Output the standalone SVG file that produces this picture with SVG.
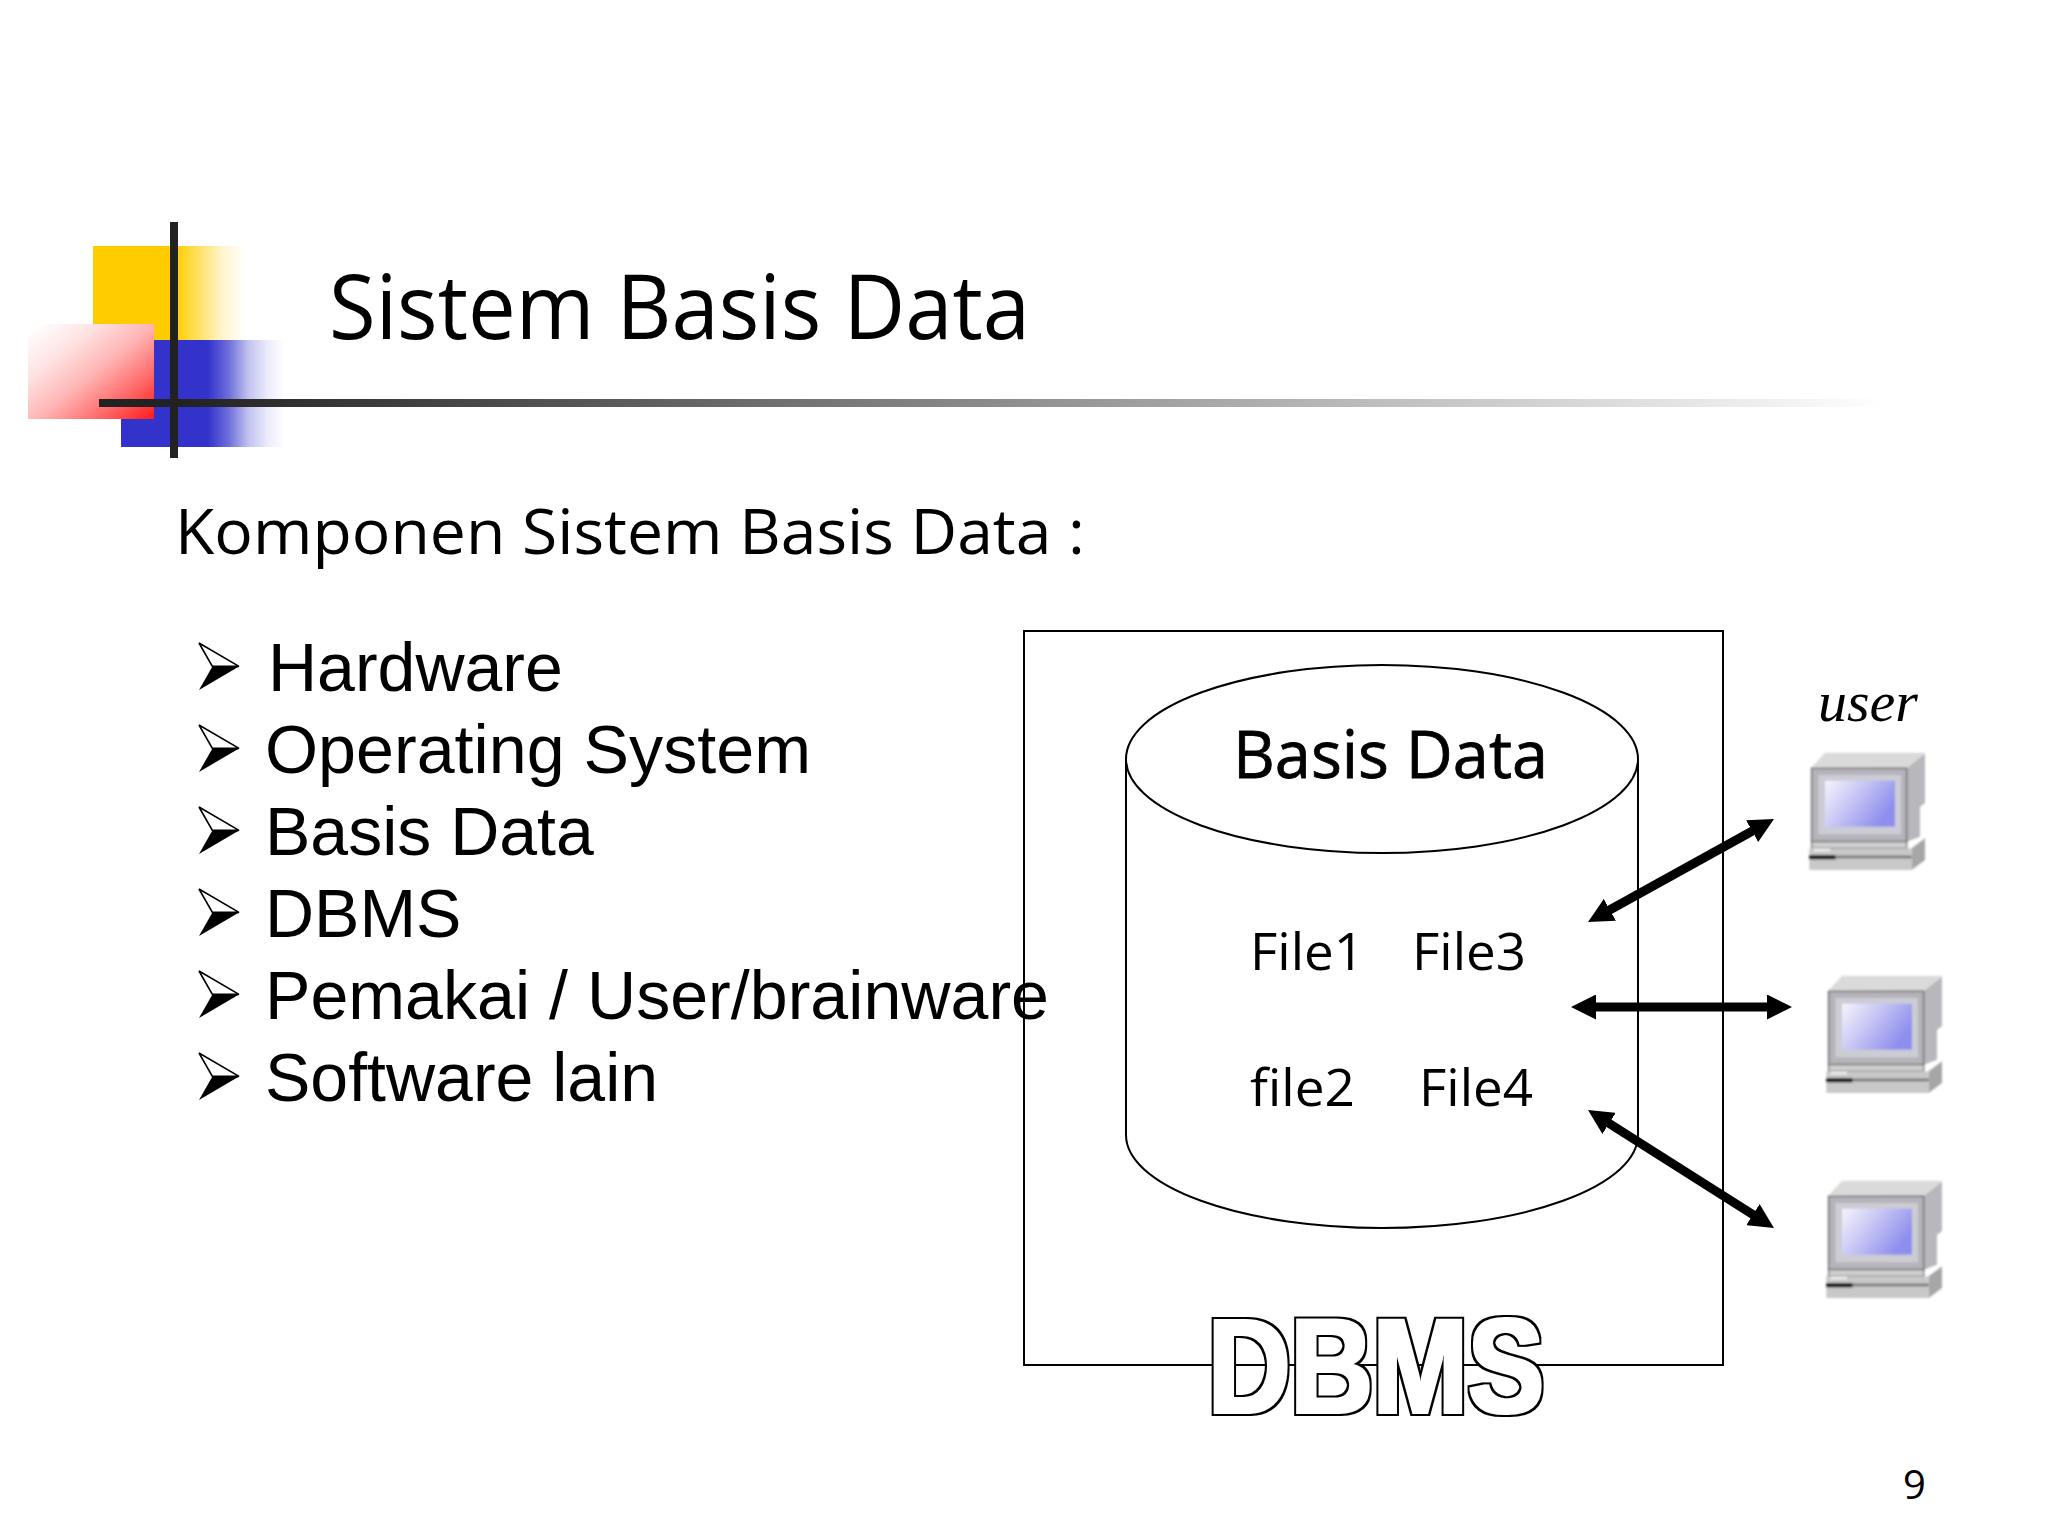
<svg xmlns="http://www.w3.org/2000/svg" xmlns:xlink="http://www.w3.org/1999/xlink" width="2048" height="1536" viewBox="0 0 2048 1536">
<style>
.seg{font-family:"Open Sans","Noto Sans",sans-serif;fill:#000}
.list{font-family:"Liberation Sans",Arial,sans-serif;font-size:68px;fill:#000}
.shape{fill:none;stroke:#000;stroke-width:2}
.arrow{stroke:#000;stroke-width:9;fill:none;marker-start:url(#head);marker-end:url(#head)}
</style>
<defs>
<linearGradient id="gy" gradientUnits="userSpaceOnUse" x1="178" y1="0" x2="246" y2="0"><stop offset="0" stop-color="#FFCC00" stop-opacity=".95"/><stop offset=".35" stop-color="#FFCC00" stop-opacity=".55"/><stop offset=".65" stop-color="#FFCC00" stop-opacity=".2"/><stop offset="1" stop-color="#FFCC00" stop-opacity="0"/></linearGradient>
<linearGradient id="gb" gradientUnits="userSpaceOnUse" x1="208" y1="0" x2="284" y2="0"><stop offset="0" stop-color="#3333CC"/><stop offset=".28" stop-color="#3333CC" stop-opacity=".7"/><stop offset=".53" stop-color="#3333CC" stop-opacity=".3"/><stop offset=".78" stop-color="#3333CC" stop-opacity=".1"/><stop offset="1" stop-color="#3333CC" stop-opacity="0"/></linearGradient>
<linearGradient id="gr" gradientUnits="userSpaceOnUse" x1="154" y1="419" x2="62" y2="305"><stop offset="0" stop-color="#FF1A1A"/><stop offset=".25" stop-color="#FF6A6A"/><stop offset=".5" stop-color="#FFB4B4"/><stop offset=".75" stop-color="#FFE2E2"/><stop offset="1" stop-color="#FFFFFF"/></linearGradient>
<linearGradient id="gl" gradientUnits="userSpaceOnUse" x1="178" y1="0" x2="1885" y2="0"><stop offset="0" stop-color="#222"/><stop offset="1" stop-color="#fff"/></linearGradient>
<linearGradient id="gs" x1="0" y1="0" x2="1" y2="0.5"><stop offset="0" stop-color="#f6f4fc"/><stop offset="0.4" stop-color="#cfcdf6"/><stop offset="1" stop-color="#8e8eee"/></linearGradient>
<filter id="soft" x="-5%" y="-5%" width="110%" height="110%"><feGaussianBlur stdDeviation="1"/></filter>
<filter id="outline" x="-5%" y="-10%" width="110%" height="120%" color-interpolation-filters="sRGB">
<feMorphology in="SourceAlpha" operator="dilate" radius="2 1" result="a"/>
<feMorphology in="a" operator="dilate" radius="2" result="b"/>
<feFlood flood-color="#000" result="k"/><feComposite in="k" in2="b" operator="in" result="ko"/>
<feFlood flood-color="#fff" result="w"/><feComposite in="w" in2="a" operator="in" result="wi"/>
<feMerge><feMergeNode in="ko"/><feMergeNode in="wi"/></feMerge>
</filter>
<marker id="head" viewBox="0 0 25 25" refX="5" refY="12.5" markerWidth="25" markerHeight="25" markerUnits="userSpaceOnUse" orient="auto-start-reverse"><path d="M0,0L25,12.5L0,25Z" fill="#000"/></marker>
<g id="pc" filter="url(#soft)"><g transform="scale(.3333)">
<polygon points="95,322 135,278 435,278 380,325" fill="#dadada"/>
<polygon points="380,325 435,280 435,430 420,440 420,530 380,545" fill="#b8b8bc"/>
<rect x="95" y="325" width="285" height="220" fill="#b6b4ba" stroke="#77777c" stroke-width="5"/>
<rect x="115" y="345" width="248" height="178" fill="#ccccd4"/>
<rect x="135" y="362" width="210" height="138" fill="url(#gs)"/>
<polygon points="395,565 435,535 435,600 395,630" fill="#a6a6a8"/>
<rect x="95" y="545" width="285" height="20" fill="#cfcfcf" stroke="#77777c" stroke-width="4"/>
<rect x="88" y="565" width="307" height="65" fill="#c8c8c8"/>
<rect x="88" y="587" width="307" height="8" fill="#777"/>
<rect x="88" y="585" width="78" height="13" fill="#111"/>
<rect x="100" y="566" width="50" height="8" fill="#eee"/>
</g></g>
<g id="bul"><polygon points="0,0 40,23.4 13.4,23.4" fill="#fff" stroke="#000" stroke-width="1.6" stroke-miterlimit="2"/><polygon points="0,47 40,23.4 13.4,23.4" fill="#000"/></g>
</defs>
<rect width="2048" height="1536" fill="#fff"/>
<g id="logo">
<rect x="93" y="246" width="85" height="94" fill="#FFCC00"/>
<rect x="178" y="246" width="68" height="94" fill="url(#gy)"/>
<rect x="121" y="340" width="87" height="107" fill="#3333CC"/>
<rect x="208" y="340" width="76" height="107" fill="url(#gb)"/>
<rect x="28" y="324" width="126" height="95" fill="url(#gr)"/>
<rect x="99" y="399" width="1786" height="8" fill="url(#gl)"/>
<rect x="170" y="222" width="8" height="236" fill="#222"/>
</g>
<text id="title" class="seg" x="329" y="339" font-size="90" textLength="701" lengthAdjust="spacingAndGlyphs">Sistem Basis Data</text>
<text id="subtitle" class="seg" x="175" y="554" font-size="62" textLength="910" lengthAdjust="spacingAndGlyphs">Komponen Sistem Basis Data :</text>
<g id="list">
<use xlink:href="#bul" href="#bul" x="199" y="643"/><text class="list" x="268" y="691">Hardware</text>
<use xlink:href="#bul" href="#bul" x="199" y="725"/><text class="list" x="265" y="773" textLength="546" lengthAdjust="spacingAndGlyphs">Operating System</text>
<use xlink:href="#bul" href="#bul" x="199" y="807"/><text class="list" x="265" y="855">Basis Data</text>
<use xlink:href="#bul" href="#bul" x="199" y="889"/><text class="list" x="265" y="937">DBMS</text>
<use xlink:href="#bul" href="#bul" x="199" y="971"/><text class="list" x="265" y="1019" textLength="784" lengthAdjust="spacingAndGlyphs">Pemakai / User/brainware</text>
<use xlink:href="#bul" href="#bul" x="199" y="1053"/><text class="list" x="265" y="1101">Software lain</text>
</g>
<g id="dbms-box"><rect class="shape" x="1024" y="631" width="699" height="734"/></g>
<g id="database">
<path class="shape" d="M1126,759V1135A256,93 0 0 0 1638,1135V759"/>
<ellipse class="shape" cx="1382" cy="759" rx="256" ry="94"/>
<text class="seg" x="1233" y="778" font-size="66" textLength="315" lengthAdjust="spacingAndGlyphs" stroke="#000" stroke-width=".8">Basis Data</text>
<text class="seg" x="1250" y="970" font-size="52" textLength="114" lengthAdjust="spacingAndGlyphs">File1</text>
<text class="seg" x="1412" y="970" font-size="52" textLength="114" lengthAdjust="spacingAndGlyphs">File3</text>
<text class="seg" x="1250" y="1106" font-size="52" textLength="105" lengthAdjust="spacingAndGlyphs">file2</text>
<text class="seg" x="1419" y="1106" font-size="52" textLength="114" lengthAdjust="spacingAndGlyphs">File4</text>
</g>
<g id="connectors">
<line class="arrow" x1="1605.5" y1="912.3" x2="1756.5" y2="828.7"/>
<line class="arrow" x1="1591" y1="1007" x2="1772" y2="1007"/>
<line class="arrow" x1="1604.9" y1="1120.7" x2="1757.1" y2="1217.3"/>
</g>
<text id="dbms-label" x="1208" y="1413" font-family="'Liberation Sans',Arial,sans-serif" font-weight="700" font-size="136" textLength="336" lengthAdjust="spacingAndGlyphs" filter="url(#outline)">DBMS</text>
<text id="user-label" x="1818" y="721" font-family="'Liberation Serif',serif" font-style="italic" font-size="58" fill="#000">user</text>
<g id="user1"><use xlink:href="#pc" href="#pc" transform="translate(1780,660)"/></g>
<g id="user2"><use xlink:href="#pc" href="#pc" transform="translate(1797,883)"/></g>
<g id="user3"><use xlink:href="#pc" href="#pc" transform="translate(1797,1088)"/></g>
<text id="page" class="seg" x="1903" y="1499" font-size="40">9</text>
</svg>
